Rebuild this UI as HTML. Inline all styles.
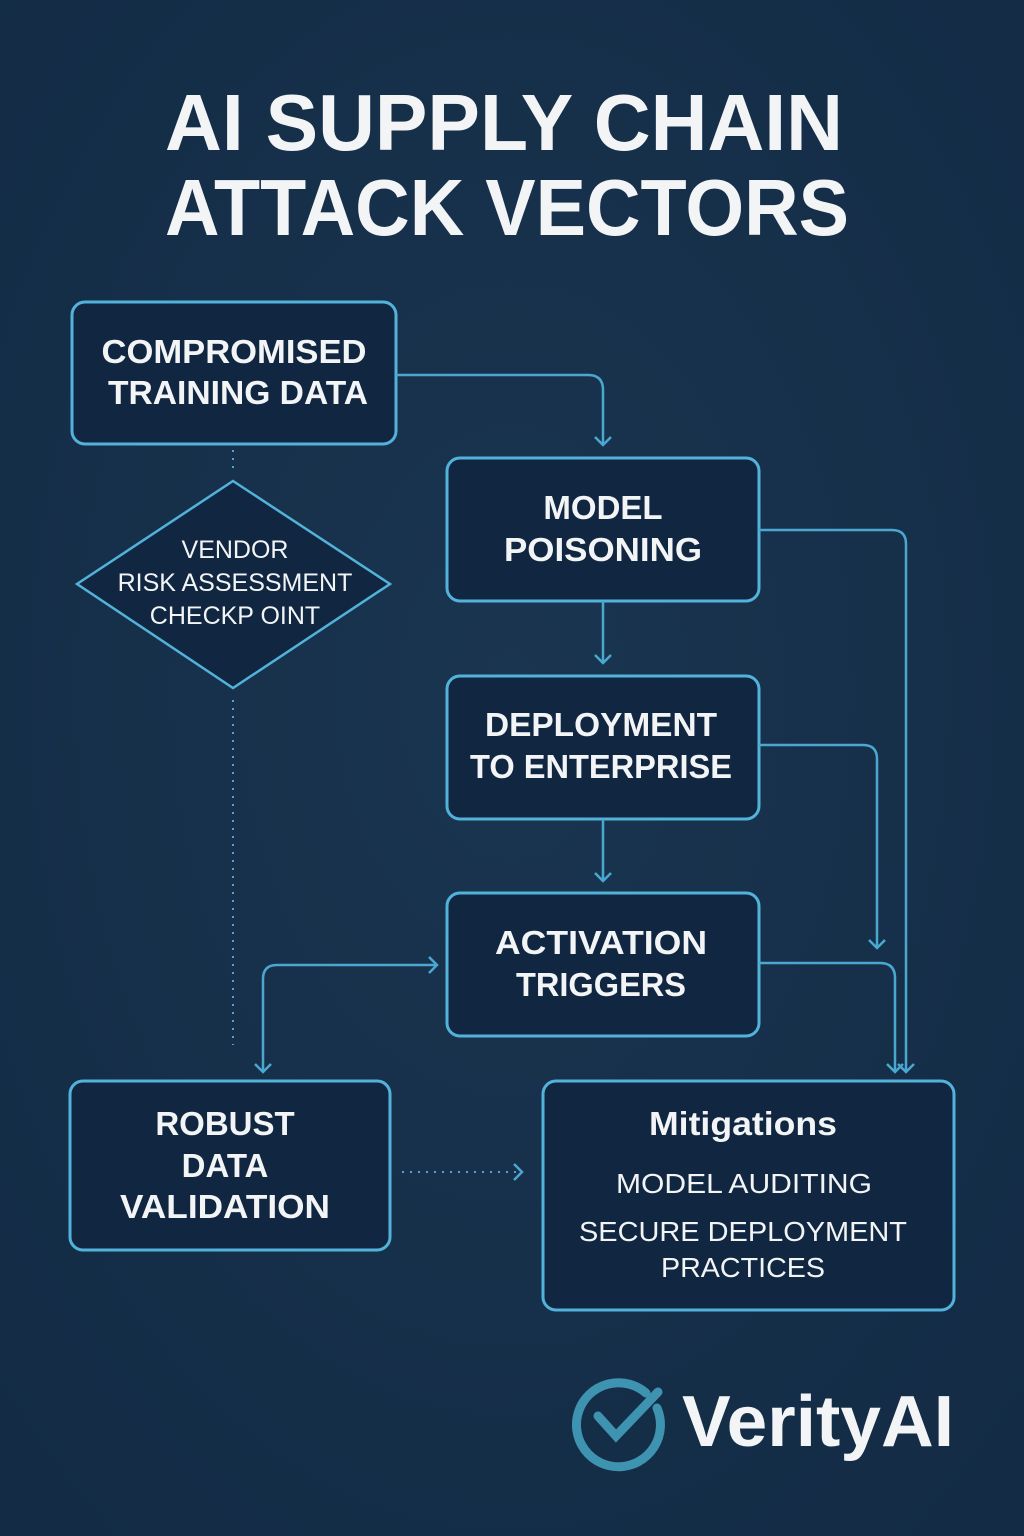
<!DOCTYPE html>
<html><head><meta charset="utf-8"><style>
html,body{margin:0;padding:0;background:#16304a;}
svg{display:block}
text{font-family:"Liberation Sans",sans-serif;fill:#f2f4f6;}
</style></head><body>
<svg width="1024" height="1536" viewBox="0 0 1024 1536" xmlns="http://www.w3.org/2000/svg">
<defs>
<radialGradient id="bg" cx="50%" cy="45%" r="70%"><stop offset="0" stop-color="#1a3550"/><stop offset="1" stop-color="#132b45"/></radialGradient>
<marker id="ah" markerWidth="20" markerHeight="20" refX="10" refY="10" orient="auto-start-reverse" markerUnits="userSpaceOnUse"><path d="M2,2 L10,10 L2,18" fill="none" stroke="#4aa8d0" stroke-width="2.5"/></marker>
</defs>
<rect width="1024" height="1536" fill="url(#bg)"/>
<g font-weight="bold" font-size="80" text-anchor="middle">
<text x="504" y="150" textLength="678" lengthAdjust="spacingAndGlyphs">AI SUPPLY CHAIN</text>
<text x="507" y="235" textLength="684" lengthAdjust="spacingAndGlyphs">ATTACK VECTORS</text>
</g>
<g fill="#112741" stroke="#52b2da" stroke-width="3">
<rect x="72" y="302" width="324" height="142" rx="13"/>
<rect x="447" y="458" width="312" height="143" rx="13"/>
<rect x="447" y="676" width="312" height="143" rx="13"/>
<rect x="447" y="893" width="312" height="143" rx="13"/>
<rect x="70" y="1081" width="320" height="169" rx="13"/>
<rect x="543" y="1081" width="411" height="229" rx="13"/>
<polygon points="233,481 390,584 233,688 77,584" stroke-width="2.5"/>
</g>
<g fill="none" stroke="#4aa8d0" stroke-width="2.5">
<path d="M396,375 H588 Q603,375 603,390 V445" marker-end="url(#ah)"/>
<path d="M603,601 V663" marker-end="url(#ah)"/>
<path d="M603,819 V881" marker-end="url(#ah)"/>
<path d="M759,530 H892 Q906,530 906,544 V1072" marker-end="url(#ah)"/>
<path d="M759,745 H863 Q877,745 877,759 V948" marker-end="url(#ah)"/>
<path d="M759,963 H880 Q895,963 895,978 V1072" marker-end="url(#ah)"/>
<path d="M437,965 H277 Q263,965 263,979 V1072" marker-start="url(#ah)" marker-end="url(#ah)"/>
<path d="M233,450 V470 M233,700 V1045" stroke-dasharray="2,6" stroke-width="2"/>
<path d="M402,1172 H522" stroke-dasharray="2,6" stroke-width="2" marker-end="url(#ah)"/>
</g>
<g font-weight="bold" font-size="33" text-anchor="middle">
<text x="234" y="363" textLength="265" lengthAdjust="spacingAndGlyphs">COMPROMISED</text>
<text x="238" y="404" textLength="260" lengthAdjust="spacingAndGlyphs">TRAINING DATA</text>
<text x="603" y="519">MODEL</text>
<text x="603" y="561" textLength="198" lengthAdjust="spacingAndGlyphs">POISONING</text>
<text x="601" y="736" textLength="232" lengthAdjust="spacingAndGlyphs">DEPLOYMENT</text>
<text x="601" y="778" textLength="262" lengthAdjust="spacingAndGlyphs">TO ENTERPRISE</text>
<text x="601" y="954" textLength="212" lengthAdjust="spacingAndGlyphs">ACTIVATION</text>
<text x="601" y="996" textLength="170" lengthAdjust="spacingAndGlyphs">TRIGGERS</text>
<text x="225" y="1135">ROBUST</text>
<text x="225" y="1177">DATA</text>
<text x="225" y="1218" textLength="210" lengthAdjust="spacingAndGlyphs">VALIDATION</text>
<text x="743" y="1135" textLength="188" lengthAdjust="spacingAndGlyphs">Mitigations</text>
</g>
<g font-size="25" text-anchor="middle">
<text x="235" y="558">VENDOR</text>
<text x="235" y="591">RISK ASSESSMENT</text>
<text x="235" y="624">CHECKP OINT</text>
</g>
<g font-size="28" text-anchor="middle">
<text x="744" y="1193" textLength="256" lengthAdjust="spacingAndGlyphs">MODEL AUDITING</text>
<text x="743" y="1241" textLength="328" lengthAdjust="spacingAndGlyphs">SECURE DEPLOYMENT</text>
<text x="743" y="1277" textLength="164" lengthAdjust="spacingAndGlyphs">PRACTICES</text>
</g>
<g fill="none" stroke="#3e93b0" stroke-width="9" stroke-linecap="round">
<path d="M646,1393 A42,42 0 1 0 657,1408"/>
<path d="M598,1416 L616,1436 L658,1392"/>
</g>
<text x="682" y="1446" font-size="72" font-weight="bold" textLength="272" lengthAdjust="spacingAndGlyphs">VerityAI</text>
</svg>
</body></html>
